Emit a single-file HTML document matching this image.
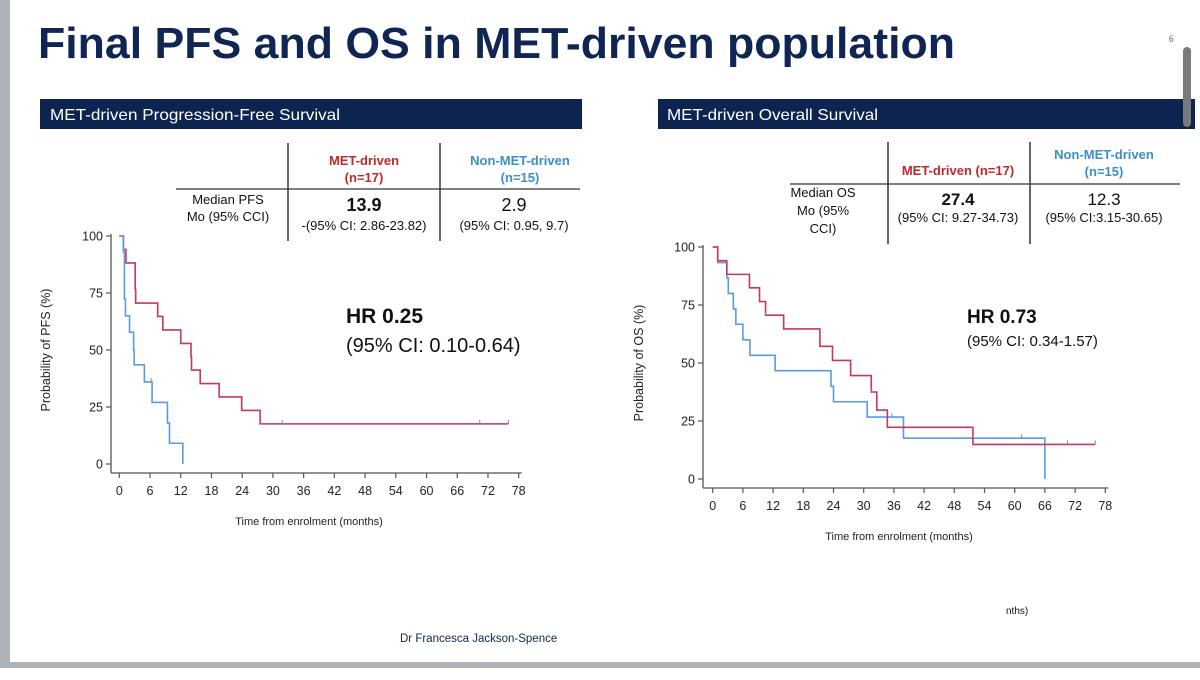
<!DOCTYPE html>
<html><head><meta charset="utf-8"><style>
html,body{margin:0;padding:0;background:#fff;width:1200px;height:680px;overflow:hidden}
svg{display:block;font-family:"Liberation Sans",Arial,sans-serif}
</style></head><body>
<svg id="s" width="1200" height="680" viewBox="0 0 1200 680">
<rect x="0" y="0" width="10" height="668" fill="#adb1b8"/>
<rect x="10" y="662" width="1190" height="6" fill="#adb1b8"/>
<text x="38" y="58" font-size="44" font-weight="bold" fill="#0f2553" textLength="917" lengthAdjust="spacingAndGlyphs">Final PFS and OS in MET-driven population</text>
<text x="1169" y="42" font-size="9" fill="#555" font-family="Liberation Serif,serif">6</text>
<rect x="40" y="99" width="542" height="30" fill="#0d2451"/>
<text x="50" y="120" font-size="16" fill="#fff" textLength="290" lengthAdjust="spacingAndGlyphs">MET-driven Progression-Free Survival</text>
<rect x="658" y="99" width="537" height="30" fill="#0d2451"/>
<text x="667" y="120" font-size="16" fill="#fff" textLength="211" lengthAdjust="spacingAndGlyphs">MET-driven Overall Survival</text>
<rect x="1183" y="47" width="8" height="80" rx="4" fill="#7a7a7a"/>

<!-- PFS table -->
<g font-size="13" text-anchor="middle">
<line x1="288" y1="143" x2="288" y2="241" stroke="#333" stroke-width="1.5"/>
<line x1="440" y1="143" x2="440" y2="241" stroke="#333" stroke-width="1.5"/>
<line x1="176" y1="189" x2="580" y2="189" stroke="#333" stroke-width="1.2"/>
<text x="364" y="165" fill="#c0282d" font-weight="bold">MET-driven</text>
<text x="364" y="182" fill="#c0282d" font-weight="bold">(n=17)</text>
<text x="520" y="165" fill="#3a8fc5" font-weight="bold">Non-MET-driven</text>
<text x="520" y="182" fill="#3a8fc5" font-weight="bold">(n=15)</text>
<text x="228" y="204" fill="#111">Median PFS</text>
<text x="228" y="221" fill="#111">Mo (95% CCI)</text>
<text x="364" y="211" font-size="18" font-weight="bold" fill="#111">13.9</text>
<text x="364" y="230" fill="#111">-(95% CI: 2.86-23.82)</text>
<text x="514" y="211" font-size="18" fill="#111">2.9</text>
<text x="514" y="230" fill="#111">(95% CI: 0.95, 9.7)</text>
</g>
<!-- OS table -->
<g font-size="13" text-anchor="middle">
<line x1="888" y1="142" x2="888" y2="244" stroke="#333" stroke-width="1.5"/>
<line x1="1030" y1="142" x2="1030" y2="244" stroke="#333" stroke-width="1.5"/>
<line x1="790" y1="184" x2="1180" y2="184" stroke="#333" stroke-width="1.2"/>
<text x="958" y="175" fill="#c0282d" font-weight="bold">MET-driven (n=17)</text>
<text x="1104" y="159" fill="#3a8fc5" font-weight="bold">Non-MET-driven</text>
<text x="1104" y="176" fill="#3a8fc5" font-weight="bold">(n=15)</text>
<text x="823" y="197" fill="#111">Median OS</text>
<text x="823" y="215" fill="#111">Mo (95%</text>
<text x="823" y="233" fill="#111">CCI)</text>
<text x="958" y="205" font-size="17" font-weight="bold" fill="#111">27.4</text>
<text x="958" y="222" fill="#111">(95% CI: 9.27-34.73)</text>
<text x="1104" y="205" font-size="17" fill="#111">12.3</text>
<text x="1104" y="222" fill="#111">(95% CI:3.15-30.65)</text>
</g>

<text x="346" y="323" font-size="21" font-weight="bold" fill="#111">HR 0.25</text>
<text x="346" y="352" font-size="20" fill="#111">(95% CI: 0.10-0.64)</text>
<text x="967" y="323" font-size="19" font-weight="bold" fill="#111">HR 0.73</text>
<text x="967" y="346" font-size="15" fill="#111">(95% CI: 0.34-1.57)</text>

<text x="400" y="642" font-size="11.5" fill="#0f2553">Dr Francesca Jackson-Spence</text>
<text x="1006" y="614" font-size="10" fill="#111">nths)</text>
<g id="charts"></g>
</svg>
<script>
const xTicks = [0,6,12,18,24,30,36,42,48,54,60,66,72,78];
const yTicks = [0,25,50,75,100];
const pfsMetT = [0,0.8,1.3,3.1,3.2,7.5,8.5,12,14,14.1,15.8,19.5,23.9,27.5,76];
const pfsMetS = [100,94.1,88.2,76.5,70.6,64.7,58.8,52.9,47,41.2,35.3,29.4,23.5,17.6,17.6];
const pfsMetCens = [31.8,70.4,76];
const pfsNonT = [0,0.8,1.0,1.2,2.0,2.8,2.9,4.9,6.4,9.4,9.8,12.4];
const pfsNonS = [100,93,72.4,65,57.8,50,43.5,36,27,18,9.1,0];
const pfsNonCens = [6.2];
const osMetT = [0,1.0,2.8,7.3,9.3,10.5,14.1,21.3,23.8,27.4,31.5,32.6,34.7,51.7,76];
const osMetS = [100,94.1,88.2,82.4,76.5,70.6,64.7,57.2,51.1,44.6,37.5,29.7,22.3,14.9,14.9];
const osMetCens = [10.5,31.6,70.5,76];
const osNonT = [0,1.0,2.8,3.1,4.1,4.6,6.0,7.4,12.4,23.5,24,30.7,37.9,66];
const osNonS = [100,93.3,86.7,80,73.3,66.7,60,53.3,46.7,40,33.3,26.7,17.6,0];
const osNonCens = [35.6,61.4];

const NS='http://www.w3.org/2000/svg';
const root=document.getElementById('charts');
function mk(tag,attrs,parent){const e=document.createElementNS(NS,tag);for(const k in attrs)e.setAttribute(k,attrs[k]);(parent||root).appendChild(e);return e;}

function chart(cfg){
  const g=mk('g',{});
  
  
  const sx=t=>cfg.x0+(t/78)*(cfg.x78-cfg.x0);
  const sy=v=>cfg.y0+(v/100)*(cfg.y100-cfg.y0);
  const ax=mk('line',{x1:cfg.ax,y1:sy(100)-2,x2:cfg.ax,y2:cfg.axY,stroke:'#555','stroke-width':1.3},g);
  
  
  const bx=mk('line',{x1:cfg.ax,y1:cfg.axY,x2:sx(78)+3,y2:cfg.axY,stroke:'#555','stroke-width':1.3},g);
  
  
  yTicks.forEach(v=>{
    mk('line',{x1:cfg.ax-5,y1:sy(v),x2:cfg.ax,y2:sy(v),stroke:'#555','stroke-width':1.2},g);
    const t=mk('text',{x:cfg.ax-8,y:sy(v)+4.5,'font-size':12.5,'text-anchor':'end',fill:'#222'},g);
    t.textContent=v;
    
    
  });
  xTicks.forEach(v=>{
    mk('line',{x1:sx(v),y1:cfg.axY,x2:sx(v),y2:cfg.axY+5,stroke:'#555','stroke-width':1.2},g);
    const t=mk('text',{x:sx(v),y:cfg.axY+22,'font-size':12.5,'text-anchor':'middle',fill:'#222'},g);
    t.textContent=v;
    
    
  });
  const xt=mk('text',{x:(sx(0)+sx(78))/2-10,y:cfg.axY+52,'font-size':11,'text-anchor':'middle',fill:'#222'},g);
  xt.textContent='Time from enrolment (months)';
  
  
  const yc=(sy(0)+sy(100))/2;
  const yt=mk('text',{x:cfg.ytx,y:yc,'font-size':12.5,'text-anchor':'middle',fill:'#222',transform:`rotate(-90 ${cfg.ytx} ${yc})`},g);
  yt.textContent=cfg.ytitle;
  
  
  cfg.series.forEach(s=>{
    let d='M'+sx(s.t[0])+','+sy(s.s[0]);
    for(let i=1;i<s.t.length;i++){d+=' H'+sx(s.t[i])+' V'+sy(s.s[i]);}
    const p=mk('path',{d:d,fill:'none',stroke:s.color,'stroke-width':1.6},g);
    
    
    s.c.forEach(ct=>{
      let v=s.s[0];
      for(let i=0;i<s.t.length;i++){if(s.t[i]<=ct)v=s.s[i];}
      const c=mk('line',{x1:sx(ct),y1:sy(v),x2:sx(ct),y2:sy(v)-4,stroke:'#888','stroke-width':1},g);
      
      
    });
  });
}
const RED='#c4385f', BLUE='#5a9ae0';
chart({name:'pfs-chart',x0:119.3,x78:518.7,y0:464,y100:236,ax:111,axY:473,ytx:50,ytitle:'Probability of PFS (%)',
  series:[{name:'pfs-met-line',t:pfsMetT,s:pfsMetS,c:pfsMetCens,color:RED},{name:'pfs-non-met-line',t:pfsNonT,s:pfsNonS,c:pfsNonCens,color:BLUE}]});
chart({name:'os-chart',x0:712.7,x78:1105.3,y0:479,y100:247,ax:703,axY:488,ytx:643,ytitle:'Probability of OS (%)',
  series:[{name:'os-non-met-line',t:osNonT,s:osNonS,c:osNonCens,color:BLUE},{name:'os-met-line',t:osMetT,s:osMetS,c:osMetCens,color:RED}]});
</script>
</body></html>
